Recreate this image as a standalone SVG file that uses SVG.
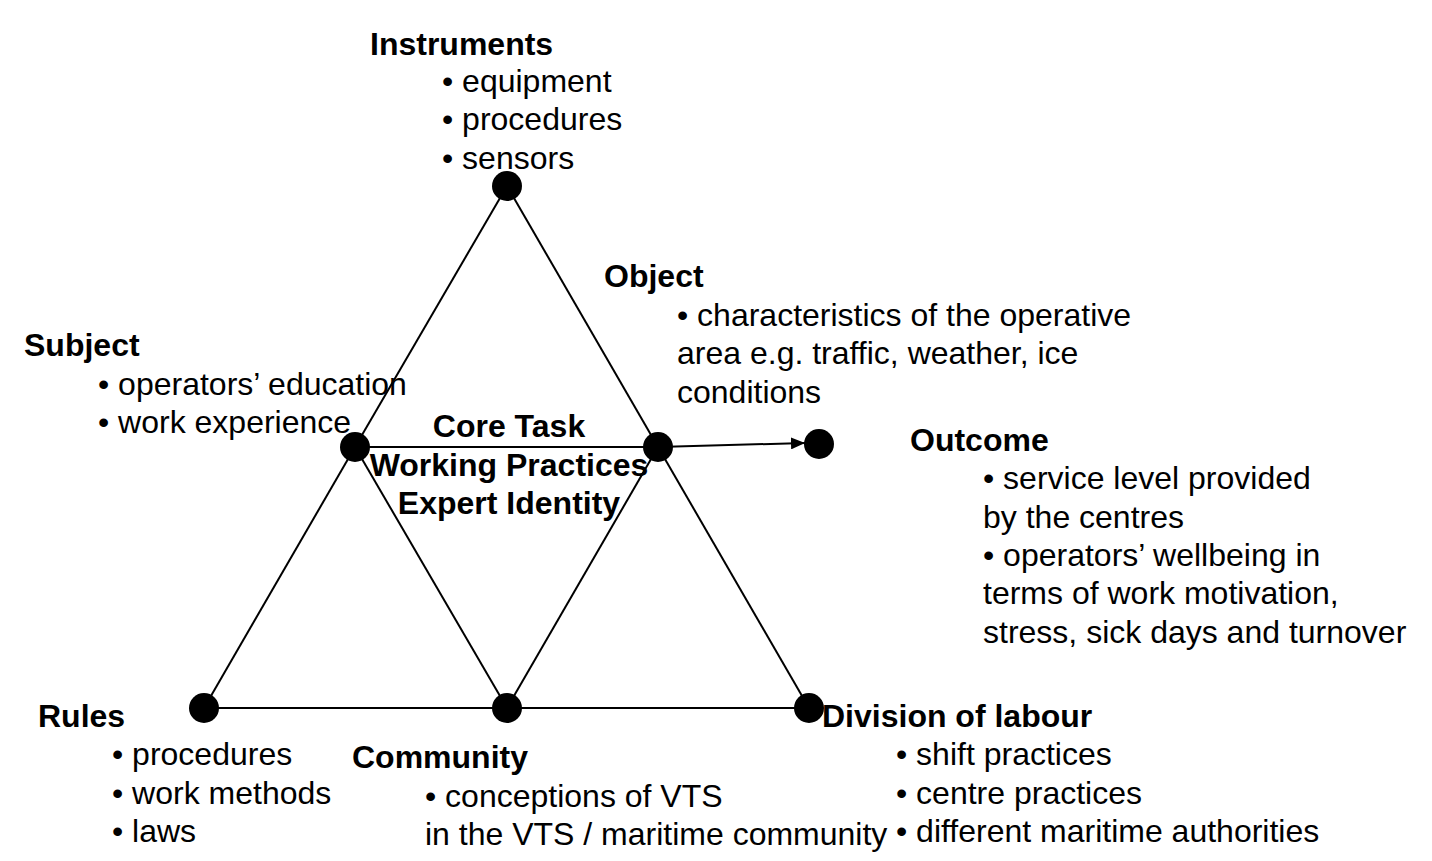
<svg xmlns="http://www.w3.org/2000/svg" width="1432" height="861" viewBox="0 0 1432 861">
<defs>
<style>
text{font-family:"Liberation Sans",Arial,sans-serif;font-size:32px;fill:#000}
.b{font-weight:bold}
.c{text-anchor:middle}
.n{fill:#000}
.e{stroke:#000;stroke-width:2;fill:none}
</style>
<marker id="ah" markerWidth="14" markerHeight="12" refX="14" refY="6" orient="auto" markerUnits="userSpaceOnUse">
<path d="M0,0 L14,6 L0,12 Z" fill="#000"/>
</marker>
</defs>
<rect width="1432" height="861" fill="#fff"/>
<g id="connectors">
<line class="e" x1="507" y1="186" x2="355" y2="447"/>
<line class="e" x1="355" y1="447" x2="204" y2="708"/>
<line class="e" x1="507" y1="186" x2="658" y2="447"/>
<line class="e" x1="658" y1="447" x2="809" y2="708"/>
<line class="e" x1="355" y1="447" x2="507" y2="708"/>
<line class="e" x1="658" y1="447" x2="507" y2="708"/>
<line class="e" x1="355" y1="447" x2="658" y2="447"/>
<line class="e" x1="204" y1="708" x2="809" y2="708"/>
<line class="e" x1="658" y1="447" x2="805" y2="443" marker-end="url(#ah)"/>
</g>
<g id="instruments">
<circle class="n" cx="507" cy="186" r="15"/>
<text class="b" x="370" y="55">Instruments</text>
<text x="442" y="92">• equipment</text>
<text x="442" y="130">• procedures</text>
<text x="442" y="169">• sensors</text>
</g>
<g id="object">
<circle class="n" cx="658" cy="447" r="15"/>
<text class="b" x="604" y="287">Object</text>
<text x="677" y="326">• characteristics of the operative</text>
<text x="677" y="364">area e.g. traffic, weather, ice</text>
<text x="677" y="403">conditions</text>
</g>
<g id="subject">
<circle class="n" cx="355" cy="447" r="15"/>
<text class="b" x="24" y="356">Subject</text>
<text x="98" y="395">• operators’ education</text>
<text x="98" y="433">• work experience</text>
</g>
<g id="core">
<text class="b c" x="509" y="437">Core Task</text>
<text class="b c" x="509" y="476">Working Practices</text>
<text class="b c" x="509" y="514">Expert Identity</text>
</g>
<g id="outcome">
<circle class="n" cx="819" cy="444" r="15"/>
<text class="b" x="910" y="451">Outcome</text>
<text x="983" y="489">• service level provided</text>
<text x="983" y="528">by the centres</text>
<text x="983" y="566">• operators’ wellbeing in</text>
<text x="983" y="604">terms of work motivation,</text>
<text x="983" y="643">stress, sick days and turnover</text>
</g>
<g id="rules">
<circle class="n" cx="204" cy="708" r="15"/>
<text class="b" x="38" y="727">Rules</text>
<text x="112" y="765">• procedures</text>
<text x="112" y="804">• work methods</text>
<text x="112" y="842">• laws</text>
</g>
<g id="community">
<circle class="n" cx="507" cy="708" r="15"/>
<text class="b" x="352" y="768">Community</text>
<text x="425" y="807">• conceptions of VTS</text>
<text x="425" y="845">in the VTS / maritime community</text>
</g>
<g id="division">
<circle class="n" cx="809" cy="708" r="15"/>
<text class="b" x="822" y="727">Division of labour</text>
<text x="896" y="765">• shift practices</text>
<text x="896" y="804">• centre practices</text>
<text x="896" y="842">• different maritime authorities</text>
</g>
</svg>
